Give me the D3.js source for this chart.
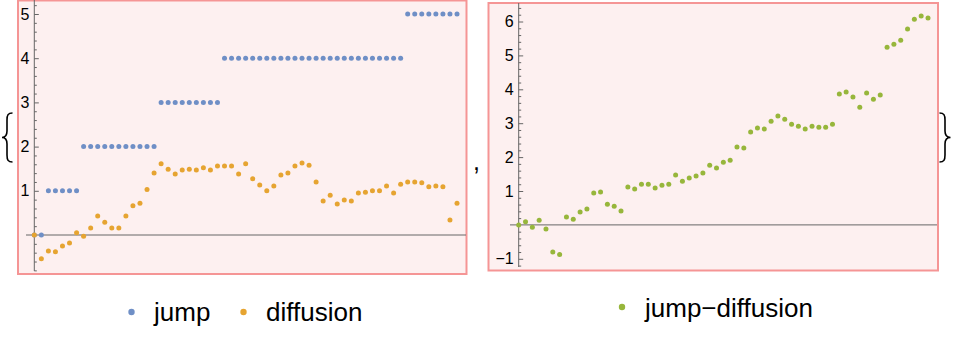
<!DOCTYPE html>
<html>
<head>
<meta charset="utf-8">
<script src="https://cdn.jsdelivr.net/npm/d3@7"></script>
<style>
  html, body { margin: 0; padding: 0; background: #ffffff; }
  svg { display: block; }
  text { font-family: "Liberation Sans", Arial, Helvetica, sans-serif; }
</style>
</head>
<body>
<svg id="chart" width="955" height="337"></svg>
<script>
// Step index shared by all three series
const steps = d3.range(61);

// Pure jump process (counting process)
const jump = [
  0, 0,
  1, 1, 1, 1, 1,
  2, 2, 2, 2, 2, 2, 2, 2, 2, 2, 2,
  3, 3, 3, 3, 3, 3, 3, 3, 3,
  4, 4, 4, 4, 4, 4, 4, 4, 4, 4, 4, 4, 4, 4, 4, 4, 4, 4, 4, 4, 4, 4, 4, 4, 4, 4,
  5, 5, 5, 5, 5, 5, 5, 5
];

// Diffusion path
const diffusion = [
  0, -0.54, -0.36, -0.38, -0.25, -0.18, 0.05, -0.03, 0.16, 0.43,
  0.29, 0.16, 0.16, 0.43, 0.66, 0.72, 1.03, 1.40, 1.61, 1.49,
  1.38, 1.47, 1.49, 1.47, 1.52, 1.47, 1.56, 1.56, 1.56, 1.38,
  1.61, 1.27, 1.13, 1.00, 1.11, 1.36, 1.40, 1.56, 1.63, 1.58,
  1.20, 0.77, 0.90, 0.70, 0.79, 0.77, 0.95, 0.97, 1.00, 1.00,
  1.11, 0.95, 1.15, 1.20, 1.20, 1.18, 1.09, 1.11, 1.09, 0.34, 0.72
];

// Jump-diffusion path
const jumpDiffusion = [
  0, 0.09, -0.07, 0.14, -0.12, -0.80, -0.87, 0.23, 0.17, 0.38,
  0.47, 0.94, 0.97, 0.61, 0.55, 0.41, 1.12, 1.06, 1.20, 1.20,
  1.09, 1.17, 1.20, 1.47, 1.29, 1.38, 1.44, 1.53, 1.76, 1.68,
  1.85, 1.91, 2.30, 2.27, 2.74, 2.86, 2.83, 3.06, 3.21, 3.12,
  2.97, 2.91, 2.83, 2.91, 2.88, 2.88, 2.97, 3.86, 3.92, 3.77,
  3.47, 3.89, 3.71, 3.83, 5.24, 5.33, 5.45, 5.78, 6.07, 6.16, 6.10
];

// Tick labels
const leftTicks = [1, 2, 3, 4, 5];
const rightTicks = [-1, 1, 2, 3, 4, 5, 6];

const colors = { jump: "#6f8fc6", diffusion: "#e6a431", jumpDiffusion: "#97b63b" };
const frameFill = "#fdf0f0";
const frameStroke = "#f59595";
const axisColor = "#666666";

const svg = d3.select("#chart");

function panel(opts) {
  const g = svg.append("g");
  // framed background
  g.append("rect")
    .attr("x", opts.frame[0]).attr("y", opts.frame[1])
    .attr("width", opts.frame[2] - opts.frame[0])
    .attr("height", opts.frame[3] - opts.frame[1])
    .attr("fill", frameFill)
    .attr("stroke", frameStroke)
    .attr("stroke-width", 2);

  const x = d3.scaleLinear().domain([0, 60]).range(opts.xRange);
  const y = d3.scaleLinear().domain([0, 5]).range(opts.yRange);

  // horizontal axis at zero
  g.append("line")
    .attr("x1", opts.xAxisExtent[0]).attr("x2", opts.xAxisExtent[1])
    .attr("y1", y(0)).attr("y2", y(0))
    .attr("stroke", axisColor).attr("stroke-width", 1);

  // vertical axis line
  g.append("line")
    .attr("x1", x(0)).attr("x2", x(0))
    .attr("y1", opts.yAxisExtent[0]).attr("y2", opts.yAxisExtent[1])
    .attr("stroke", axisColor).attr("stroke-width", 1);

  // minor ticks
  const minor = d3.range(opts.minorDomain[0], opts.minorDomain[1] + 1e-9, 0.2)
    .map(v => Math.round(v * 10) / 10)
    .filter(v => Math.abs(v - Math.round(v)) > 1e-6);
  const minorAxis = d3.axisLeft(y).tickValues(minor).tickSize(-2.5).tickFormat("");
  const gm = g.append("g").attr("transform", `translate(${x(0)},0)`).call(minorAxis);
  gm.select(".domain").remove();
  gm.selectAll("line").attr("stroke", axisColor);

  // major ticks with labels
  const majorAxis = d3.axisLeft(y).tickValues(opts.ticks).tickSize(-4.5).tickPadding(5)
    .tickFormat(d => d < 0 ? "\u2212" + Math.abs(d) : String(d));
  const ga = g.append("g").attr("transform", `translate(${x(0)},0)`).call(majorAxis);
  ga.select(".domain").remove();
  ga.selectAll("line").attr("stroke", axisColor);
  ga.selectAll("text")
    .attr("fill", "#000")
    .style("font-size", "16px")
    .style("font-family", "'Liberation Sans', Arial, sans-serif");

  // point series
  opts.series.forEach(s => {
    g.append("g").selectAll("circle")
      .data(steps)
      .join("circle")
      .attr("cx", i => x(i))
      .attr("cy", i => y(s.values[i]))
      .attr("r", 2.5)
      .attr("fill", s.color);
  });
  return g;
}

panel({
  frame: [18, 0.5, 466.5, 274],
  xRange: [34.3, 457],
  yRange: [235.0, 235.0 - 5 * 44.2],
  xAxisExtent: [26, 466],
  yAxisExtent: [0, 271],
  minorDomain: [-0.8, 5.2],
  ticks: leftTicks,
  series: [
    { values: jump, color: colors.jump },
    { values: diffusion, color: colors.diffusion }
  ]
});

panel({
  frame: [488.5, 3, 938, 270.5],
  xRange: [518.7, 928],
  yRange: [224.9, 224.9 - 5 * 33.9],
  xAxisExtent: [510, 937],
  yAxisExtent: [3, 267],
  minorDomain: [-1.2, 6.4],
  ticks: rightTicks,
  series: [
    { values: jumpDiffusion, color: colors.jumpDiffusion }
  ]
});

// legends
function legend(items, y0, dotY) {
  items.forEach(it => {
    svg.append("circle").attr("cx", it.dot).attr("cy", dotY).attr("r", 3.2).attr("fill", it.color);
    svg.append("text").attr("x", it.x).attr("y", y0)
      .attr("fill", "#000").style("font-size", "26px").text(it.label);
  });
}
legend([
  { label: "jump", color: colors.jump, dot: 131.5, x: 154 },
  { label: "diffusion", color: colors.diffusion, dot: 243.5, x: 266 }
], 321, 312);
legend([
  { label: "jump\u2212diffusion", color: colors.jumpDiffusion, dot: 622, x: 645 }
], 317, 307);

// list delimiters around the two panels
svg.append("path")
  .attr("d", "M12.5,113 C8,113 7,115 7,120 L7,131 C7,135.5 5.5,137.5 2,137.5 C5.5,137.5 7,139.5 7,144 L7,155 C7,160 8,162 12.5,162")
  .attr("fill", "none").attr("stroke", "#000").attr("stroke-width", 1.6);
svg.append("path")
  .attr("d", "M939.5,113 C944,113 945,115 945,120 L945,131 C945,135.5 946.5,137.5 950.5,137.5 C946.5,137.5 945,139.5 945,144 L945,155 C945,160 944,162 939.5,162")
  .attr("fill", "none").attr("stroke", "#000").attr("stroke-width", 1.6);
svg.append("text").attr("x", 473).attr("y", 170).attr("fill", "#000")
  .style("font-size", "25px").text(",");
</script>
</body>
</html>
